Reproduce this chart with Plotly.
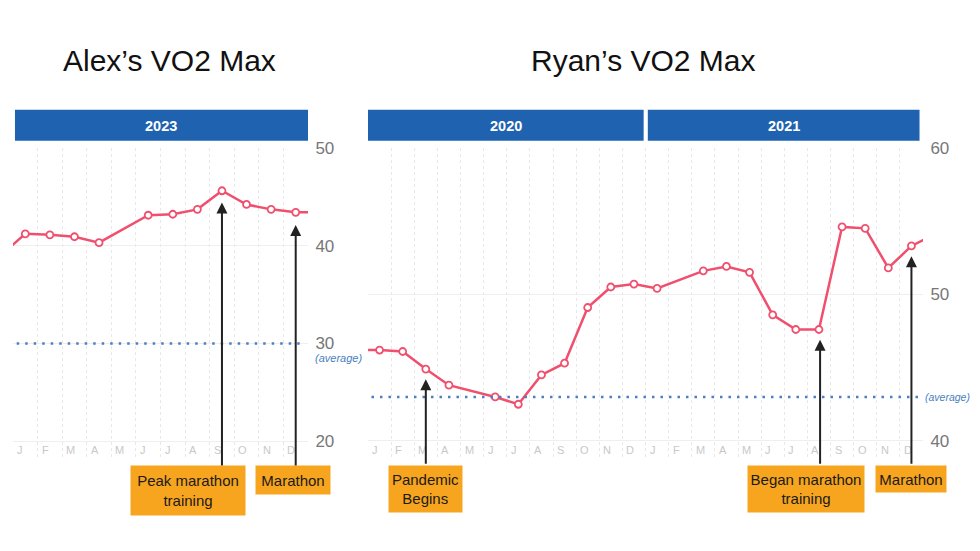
import plotly.graph_objects as go

W, H = 980, 551
# measured mapping of the browser shot: shown = OX + div (x), shown = OY + SY * div (y)
OX = 8.0
OY, SY = 17.5, 0.982

# ---------------- data ----------------
months = ["J", "F", "M", "A", "M", "J", "J", "A", "S", "O", "N", "D"]

alex_title = "Alex’s VO2 Max"
alex_year = "2023"
alex_vo2 = [41.2, 41.1, 40.9, 40.3, None, 43.1, 43.2, 43.7, 45.6, 44.2, 43.7, 43.4]
alex_prev = 39.0   # previous December (off chart)
alex_next = 43.4   # following January (off chart)
alex_avg = 30
alex_yticks = [20, 30, 40, 50]

ryan_title = "Ryan’s VO2 Max"
ryan_years = ["2020", "2021"]
ryan_vo2 = [46.2, 46.1, 44.9, 43.8, None, 43.0, 42.5, 44.5, 45.3, 49.1, 50.5, 50.7,
            50.4, None, 51.6, 51.9, 51.5, 48.6, 47.6, 47.6, 54.6, 54.5, 51.8, 53.3]
ryan_prev = 46.2
ryan_next = 54.1
ryan_avg = 43.0
ryan_yticks = [40, 50, 60]

alex_notes = [("Peak marathon<br>training", 8.5, 44.4), ("Marathon", 11.5, 42.1)]
ryan_notes = [("Pandemic<br>Begins", 2.5, 44.2), ("Began marathon<br>training", 19.55, 46.9),
              ("Marathon", 23.5, 52.6)]

# ---------------- style ----------------
FONT = "Liberation Sans, Arial, sans-serif"
PINK = "#f0506e"
BLUE = "#4a7fc1"
HEAD = "#1f63b0"
ORANGE = "#f7a51e"
GRID = "#efefef"
VGRID = "#e8e8e8"

def PX(x):
    return (x - OX) / W

def PY(y):
    return 1 - ((y - OY) / SY) / H

fig = go.Figure()

def add_series(vals, prev, nxt, xa, ya):
    n = len(vals)
    xs = [-0.5] + [i + 0.5 for i in range(n)] + [n + 0.5]
    ys = [prev] + list(vals) + [nxt]
    fig.add_trace(go.Scatter(
        x=xs, y=ys, xaxis=xa, yaxis=ya, mode="lines+markers", connectgaps=True,
        line=dict(color=PINK, width=2.5),
        marker=dict(size=7, color="white", line=dict(color=PINK, width=1.8)),
        hoverinfo="skip", showlegend=False))

def add_avg(avg, n, xa, ya):
    fig.add_trace(go.Scatter(
        x=[0.15, n - 0.15], y=[avg, avg], xaxis=xa, yaxis=ya, mode="lines",
        line=dict(color=BLUE, width=2.5, dash="2.5px,6px"), hoverinfo="skip", showlegend=False))

add_series(alex_vo2, alex_prev, alex_next, "x", "y")
add_avg(alex_avg, 12, "x", "y")
add_series(ryan_vo2, ryan_prev, ryan_next, "x2", "y2")
add_avg(ryan_avg, 24, "x2", "y2")

def xaxis(dom, n):
    return dict(
        domain=dom, range=[0, n], tickvals=list(range(n + 1)), showticklabels=False,
        showgrid=True, gridcolor=VGRID, griddash="dot", gridwidth=1,
        zeroline=False, showline=False, ticks="", fixedrange=True)

def yaxis(rng, ticks, anchor):
    return dict(
        domain=[PY(459), PY(148)], range=rng, tickvals=ticks, side="right",
        anchor=anchor, tickfont=dict(size=17, color="#777777", family=FONT),
        showgrid=True, gridcolor=GRID, zeroline=False, showline=False,
        ticks="outside", ticklen=3, tickcolor="rgba(0,0,0,0)", fixedrange=True)

fig.update_layout(
    width=W, height=H, margin=dict(l=0, r=0, t=0, b=0),
    paper_bgcolor="white", plot_bgcolor="white", font=dict(family=FONT),
    xaxis=xaxis([PX(13), PX(308)], 12),
    yaxis=yaxis([18.16, 50], alex_yticks, "x"),
    xaxis2=dict(xaxis([PX(368), PX(923)], 24), anchor="y2"),
    yaxis2=yaxis([38.75, 60], ryan_yticks, "x2"),
)

shapes = []
annotations = []

def label(x, y, text, size, color, **kw):
    d = dict(xref="paper", yref="paper", x=PX(x), y=PY(y), text=text, showarrow=False,
             xanchor="center", yanchor="middle", font=dict(size=size, color=color, family=FONT))
    d.update(kw)
    annotations.append(d)

# month labels inside the bottom of each plot
def month_labels(xref, yref, labels):
    for i, m in enumerate(labels):
        annotations.append(dict(xref=xref, yref=yref + " domain", x=i, y=0, text=m,
                                xanchor="left", yanchor="bottom", xshift=2, yshift=1,
                                showarrow=False,
                                font=dict(size=11, color="#c8c8c8", family=FONT)))

month_labels("x", "y", months)
month_labels("x2", "y2", months + months)

# headers
def header(xref, x0, x1, text):
    shapes.append(dict(type="rect", xref=xref, yref="paper", x0=x0, x1=x1,
                       y0=PY(141), y1=PY(110), fillcolor=HEAD, line=dict(width=0),
                       layer="above"))
    annotations.append(dict(xref=xref, yref="paper", x=(x0 + x1) / 2, y=PY(126),
                            xanchor="center", yanchor="middle",
                            text="<b>%s</b>" % text, showarrow=False,
                            font=dict(size=14.5, color="white", family=FONT)))

header("x", 0.08, 12, alex_year)
header("x2", 0, 11.92, ryan_years[0])
header("x2", 12.1, 23.85, ryan_years[1])

# titles
label(169.5, 61, alex_title, 30, "#111")
label(643, 61, ryan_title, 30, "#111")

# average labels
label(338, 358, "<i>(average)</i>", 11, BLUE)
label(947, 397, "<i>(average)</i>", 10.5, BLUE)

# arrows (tail at box top, y pixel 466)
def arrow(xa, ya, x, y, tail):
    annotations.append(dict(xref=xa, yref=ya, axref=xa, ayref=ya, x=x, y=y, ax=x, ay=tail,
                            text="", showarrow=True, arrowhead=2, arrowsize=1.1,
                            arrowwidth=2, arrowcolor="#222"))

alex_tail = 50 - (466 - 148.5) / 9.72
ryan_tail = 60 - (466 - 147.7) / 14.7
for t, x, y in alex_notes:
    arrow("x", "y", x, y, alex_tail)
for t, x, y in ryan_notes:
    arrow("x2", "y2", x, y, ryan_tail)

# orange boxes
boxes = [(alex_notes[0][0], 188, 490.5, 114, 49), (alex_notes[1][0], 293, 480, 74, 28),
         (ryan_notes[0][0], 425.5, 489, 73, 46), (ryan_notes[1][0], 806, 489, 116, 46),
         (ryan_notes[2][0], 911, 479, 70, 26)]
for t, cx, cy, w, h in boxes:
    label(cx, cy, t, 15, "#1a1a1a", bgcolor=ORANGE, width=w, height=h, borderpad=0,
          align="center", valign="middle")

fig.update_layout(shapes=shapes, annotations=annotations)
fig.write_html("out.html")
